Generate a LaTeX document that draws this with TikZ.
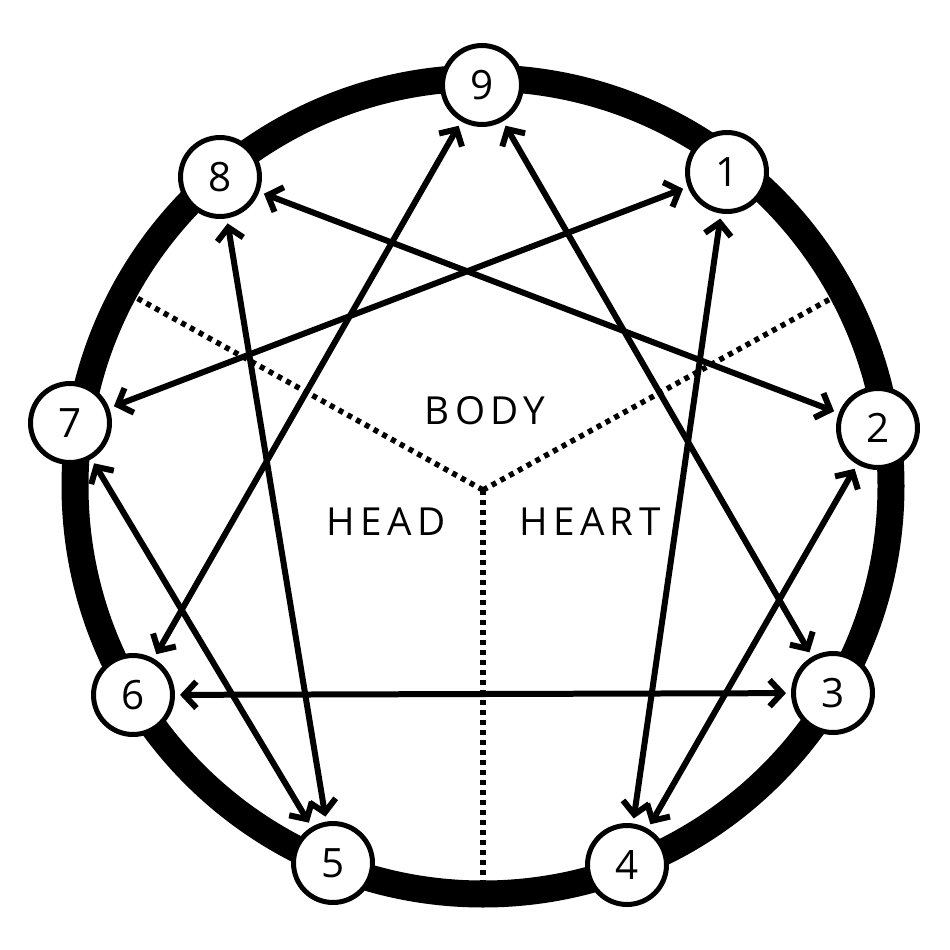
\documentclass[tikz,border=0pt]{standalone}
\usepackage{fontspec}
\setmainfont{Open Sans}
\newfontfamily\zonefont[LetterSpace=14]{Open Sans}
\usetikzlibrary{arrows.meta}

\begin{document}
\begin{tikzpicture}[x=0.02cm, y=-0.02cm,
    num/.style={circle, draw, fill=white, line width=0.1cm, minimum size=1.58cm,
                inner sep=0pt, outer sep=0.15cm, font=\fontsize{23}{23}\selectfont},
    link/.style={line width=0.12cm,
                 {Straight Barb[length=7pt,width=15pt]}-{Straight Barb[length=7pt,width=15pt]}},
    zone/.style={line width=0.11cm, dash pattern=on 0.1cm off 0.1cm},
    centre/.style={draw=none, fill=none, font=\zonefont\fontsize{22}{22}\selectfont}]
    \useasboundingbox (0,0) rectangle (950,950);

    % outer ring
    \draw[line width=0.54cm] (483,486) circle[radius=408];

    % centres
    \coordinate (O) at (483,490);
    \coordinate (Zl) at (135,297);
    \coordinate (Zr) at (832,298);
    \coordinate (Zb) at (483,880);
    \draw[zone] (O) -- (Zl);
    \draw[zone] (O) -- (Zr);
    \draw[zone] (O) -- (Zb);

    \node[centre] (body)  at (485,411) {BODY};
    \node[centre] (head)  at (386,522) {HEAD};
    \node[centre] (heart) at (590,522) {HEART};

    % points
    \node[num] (n9) at (482,85)  {9};
    \node[num] (n1) at (727,172) {1};
    \node[num] (n2) at (878,428) {2};
    \node[num] (n3) at (833,693) {3};
    \node[num] (n4) at (627,865) {4};
    \node[num] (n5) at (333,863) {5};
    \node[num] (n6) at (133,695) {6};
    \node[num] (n7) at (70,423)  {7};
    \node[num] (n8) at (220,177) {8};

    % lines
    \draw[link] (n1) -- (n4);
    \draw[link] (n4) -- (n2);
    \draw[link] (n2) -- (n8);
    \draw[link] (n8) -- (n5);
    \draw[link] (n5) -- (n7);
    \draw[link] (n7) -- (n1);
    \draw[link] (n9) -- (n3);
    \draw[link] (n3) -- (n6);
    \draw[link] (n6) -- (n9);
\end{tikzpicture}
\end{document}
